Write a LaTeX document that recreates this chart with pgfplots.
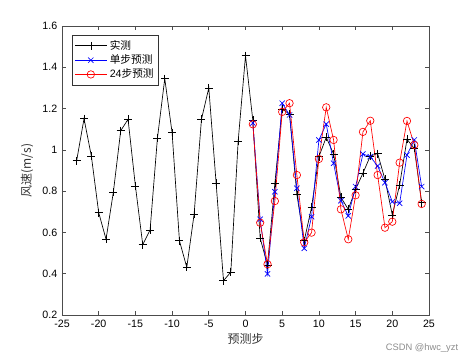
\documentclass[border=0pt]{standalone}
\usepackage{fontspec}
\setmainfont{Liberation Sans}
\newfontfamily\cjk{Noto Sans CJK SC}
\usepackage{pgfplots}
\pgfplotsset{compat=1.18}
\begin{document}
\begin{tikzpicture}[x=1pt,y=1pt]
\path[use as bounding box] (-46.5,-30) rectangle (309,236.25);
\begin{axis}[at={(0,0)}, anchor=south west, scale only axis,
  width=275.25pt, height=216.75pt,
  xmin=-25, xmax=25, ymin=0.2, ymax=1.6,
  xtick={-25,-20,-15,-10,-5,0,5,10,15,20,25},
  ytick={0.2,0.4,0.6,0.8,1,1.2,1.4,1.6},
  tick align=inside, tick pos=both, major tick length=3pt,
  axis line style={black!70, line width=0.5pt},
  tick style={black!70, line width=0.5pt},
  ticklabel style={font=\fontsize{8}{9}\selectfont},
  /pgf/number format/assume math mode=true,
  xlabel={\cjk 预测步}, ylabel={\cjk 风速(m/s)},
  label style={font=\fontsize{9}{10}\selectfont, text=black!80},
  xlabel style={yshift=2pt},
  legend style={at={(0.027,0.969)}, anchor=north west, draw=black!80,
    font=\fontsize{8}{9}\selectfont, cells={anchor=west}, row sep=-1.5pt,
    inner sep=1.8pt},
  legend image code/.code={\draw[mark repeat=2,mark phase=2,#1] plot coordinates {(0cm,0cm) (0.42cm,0cm) (0.84cm,0cm)};},
]
\addplot[black, line width=0.5pt, mark=+, mark size=3pt] coordinates {
(-23,0.948) (-22,1.151) (-21,0.970) (-20,0.696) (-19,0.567) (-18,0.796) (-17,1.093) (-16,1.148)
(-15,0.825) (-14,0.541) (-13,0.612) (-12,1.056) (-11,1.345) (-10,1.083) (-9,0.560) (-8,0.431)
(-7,0.689) (-6,1.148) (-5,1.300) (-4,0.838) (-3,0.366) (-2,0.408) (-1,1.042) (0,1.456)
(1,1.143) (2,0.572) (3,0.442) (4,0.838) (5,1.197) (6,1.174) (7,0.783) (8,0.560)
(9,0.722) (10,0.967) (11,1.061) (12,0.980) (13,0.770) (14,0.712) (15,0.809) (16,0.887)
(17,0.970) (18,0.982) (19,0.857) (20,0.685) (21,0.830) (22,1.051) (23,1.007) (24,0.745)};
\addlegendentry{\cjk 实测}
\addplot[blue, line width=0.5pt, mark=x, mark size=2.8pt] coordinates {
(1,1.130) (2,0.664) (3,0.399) (4,0.797) (5,1.226) (6,1.169) (7,0.814) (8,0.523)
(9,0.676) (10,1.048) (11,1.125) (12,0.935) (13,0.754) (14,0.680) (15,0.822) (16,0.980)
(17,0.967) (18,0.922) (19,0.841) (20,0.749) (21,0.741) (22,0.975) (23,1.048) (24,0.822)};
\addlegendentry{\cjk 单步预测}
\addplot[red, line width=0.5pt, mark=o, mark size=2.8pt] coordinates {
(1,1.124) (2,0.647) (3,0.446) (4,0.752) (5,1.184) (6,1.226) (7,0.878) (8,0.552)
(9,0.599) (10,0.956) (11,1.206) (12,1.048) (13,0.712) (14,0.567) (15,0.780) (16,1.087)
(17,1.141) (18,0.878) (19,0.623) (20,0.652) (21,0.938) (22,1.140) (23,1.024) (24,0.738)};
\addlegendentry{24{\cjk 步预测}}
\end{axis}
\node[text=black!45, font=\fontsize{7}{8}\selectfont] at (270,-24.75) {CSDN @hwc\_yzt};
\end{tikzpicture}
\end{document}
